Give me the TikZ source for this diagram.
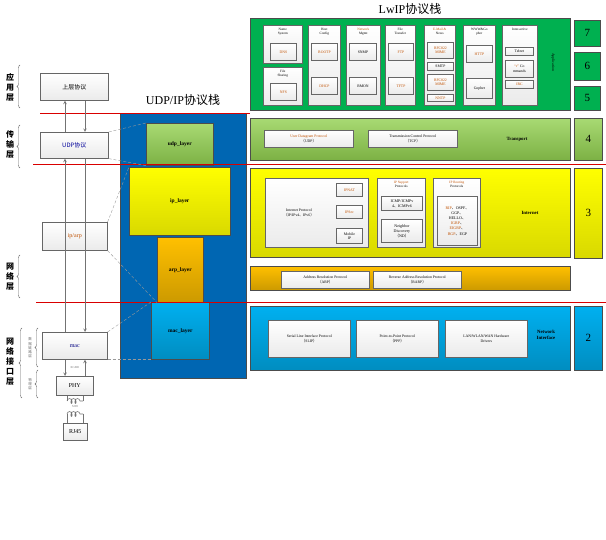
\documentclass[tikz,border=0pt]{standalone}
\usepackage{fontspec}
\setmainfont{Liberation Serif}
\newfontfamily\cjk{Noto Sans CJK SC}
\newcommand\lpn{{\cjk （}}
\newcommand\rpn{{\cjk ）}}
\newcommand\dun{{\cjk 、}}
\usetikzlibrary{decorations.pathreplacing,decorations.pathmorphing}
\definecolor{appg}{RGB}{0,176,80}
\definecolor{trg}{RGB}{146,208,80}
\definecolor{yel}{RGB}{255,255,0}
\definecolor{org}{RGB}{255,192,0}
\definecolor{cya}{RGB}{0,176,240}
\definecolor{dblue}{RGB}{0,102,178}
\definecolor{txo}{RGB}{192,80,0}
\tikzset{
 layer/.style={draw=black!70,line width=0.6pt},
 wbox/.style={draw=black!60,line width=0.6pt,top color=white,bottom color=black!8,font=\fontsize{3.8}{4.4}\selectfont,align=center,inner sep=0.5pt},
 ibox/.style={wbox,line width=0.9pt},
 num/.style={layer,font=\fontsize{11}{12}\selectfont},
 lbox/.style={draw=black!60,line width=0.6pt,top color=white,bottom color=black!8,font=\fontsize{6}{7}\selectfont,align=center},
 conn/.style={draw=black!55,line width=0.6pt},
 dashl/.style={draw=black!40,densely dashed,line width=0.4pt},
 redl/.style={draw=red!85!black,line width=0.7pt},
 brc/.style={draw=black!60,decorate,decoration={brace,amplitude=3pt}},
 side/.style={font=\cjk\bfseries\fontsize{8}{10}\selectfont,align=center},
 grp/.style={wbox,line width=0.6pt},
 coilst/.style={conn,decorate,decoration={coil,aspect=0.6,segment length=4pt,amplitude=2.5pt}},
}
\newcommand\bxx[7]{\node[#1,anchor=north west,minimum width={(#5-#3)*1pt},minimum height={(#6-#4)*1pt}] (#2) at (#3,#4) {#7};}
\begin{document}
\begin{tikzpicture}[x=1pt,y=-1pt]
\useasboundingbox (0,0) rectangle (606,540);
% ---------- titles
\node[font=\fontsize{12}{13}\selectfont] (t1) at (410,9) {LwIP{\cjk 协议栈}};
\node[font=\fontsize{12}{13}\selectfont] (t2) at (183,100) {UDP/IP{\cjk 协议栈}};
% ---------- application
\bxx{layer,fill=appg}{app}{250}{18}{570}{110}{}
\node[rotate=-90,font=\fontsize{3.8}{4}\selectfont] (apptx) at (553,62) {Application};
\bxx{num,fill=appg}{n7}{574}{20}{600}{46}{7}
\bxx{num,fill=appg}{n6}{574}{52}{600}{80}{6}
\bxx{num,fill=appg}{n5}{574}{86}{600}{110}{5}
\bxx{grp}{g1}{263}{25}{302}{63}{}
\node[anchor=north,font=\fontsize{3.4}{3.8}\selectfont,align=center] (g1t) at (g1.north) {Name\\System};
\bxx{ibox,text=txo}{dns}{270}{43}{296}{60}{DNS}
\bxx{grp}{g2}{263}{67}{302}{105}{}
\node[anchor=north,font=\fontsize{3.4}{3.8}\selectfont,align=center] (g2t) at (g2.north) {File\\Sharing};
\bxx{ibox,text=txo}{nfs}{270}{83}{296}{100}{NFS}
\bxx{grp}{g3}{308}{25}{340}{105}{}
\node[anchor=north,font=\fontsize{3.4}{3.8}\selectfont,align=center] (g3t) at (g3.north) {Host\\Config};
\bxx{ibox,text=txo}{bootp}{311}{43}{337}{60}{BOOTP}
\bxx{ibox,text=txo}{dhcp}{311}{77}{337}{94}{DHCP}
\bxx{grp}{g4}{346}{25}{380}{105}{}
\node[anchor=north,font=\fontsize{3.4}{3.8}\selectfont,align=center] (g4t) at (g4.north) {{\color{txo}Network}\\Mgmt};
\bxx{ibox}{snmp}{349}{43}{376}{60}{SNMP}
\bxx{ibox}{rmon}{349}{77}{376}{94}{RMON}
\bxx{grp}{g5}{385}{25}{415}{105}{}
\node[anchor=north,font=\fontsize{3.4}{3.8}\selectfont,align=center] (g5t) at (g5.north) {File\\Transfer};
\bxx{ibox,text=txo}{ftp}{388}{43}{413}{60}{FTP}
\bxx{ibox,text=txo}{tftp}{388}{77}{413}{94}{TFTP}
\bxx{grp}{g6}{424}{25}{455}{105}{}
\node[anchor=north,font=\fontsize{3.4}{3.8}\selectfont,align=center] (g6t) at (g6.north) {{\color{txo}E-Mail \&}\\News};
\bxx{ibox,text=txo}{mime1}{427}{42}{453}{58}{RFC822\\MIME}
\bxx{ibox}{smtp}{427}{62}{453}{70}{SMTP}
\bxx{ibox,text=txo}{mime2}{427}{74}{453}{90}{RFC822\\MIME}
\bxx{ibox,text=txo}{nntp}{427}{94}{453}{101}{NNTP}
\bxx{grp}{g7}{463}{25}{495}{105}{}
\node[anchor=north,font=\fontsize{3.4}{3.8}\selectfont,align=center] (g7t) at (g7.north) {WWW\&Go\\pher};
\bxx{ibox,text=txo}{http}{466}{45}{492}{62}{HTTP}
\bxx{ibox}{gopher}{466}{78}{492}{98}{Gopher}
\bxx{grp}{g8}{502}{25}{537}{105}{}
\node[anchor=north,font=\fontsize{3.4}{3.8}\selectfont,align=center] (g8t) at (g8.north) {Inter-active};
\bxx{ibox}{telnet}{505}{47}{533}{55}{Telnet}
\bxx{ibox}{rcmd}{505}{60}{533}{77}{{\color{txo}``r''} Co\\mmands}
\bxx{ibox,text=txo}{irc}{505}{80}{533}{88}{IRC}
% ---------- transport
\bxx{layer,top color=trg!80!white,bottom color=trg!85!black}{trans}{250}{118}{570}{160}{}
\bxx{num,top color=trg!80!white,bottom color=trg!85!black}{n4}{574}{118}{602}{160}{4}
\bxx{wbox}{udp}{264}{130}{353}{147}{{\color{txo}User Datagram Protocol}\\\lpn UDP\rpn}
\bxx{wbox}{tcp}{368}{130}{457}{147}{Transmission Control Protocol\\\lpn TCP\rpn}
\node[font=\bfseries\fontsize{4.8}{5}\selectfont] (trt) at (517,139) {Transport};
% ---------- internet
\bxx{layer,top color=yel,bottom color=yel!85!black}{inet}{250}{168}{570}{257}{}
\bxx{num,top color=yel,bottom color=yel!85!black}{n3}{574}{168}{602}{258}{3}
\bxx{wbox}{ipg}{265}{178}{368}{247}{}
\node[font=\fontsize{3.8}{4.4}\selectfont,align=center] (ipt) at (299,213) {Internet Protocol\\\lpn IP/IPv4\dun IPv6\rpn};
\bxx{ibox,text=txo}{ipnat}{336}{183}{362}{196}{IPNAT}
\bxx{ibox,text=txo}{ipsec}{336}{205}{362}{218}{IPSec}
\bxx{ibox}{mobip}{336}{228}{362}{243}{Mobile\\IP}
\bxx{grp}{ips}{377}{178}{425}{247}{}
\node[anchor=north,font=\fontsize{3.4}{3.8}\selectfont,align=center] (ipst) at (ips.north) {{\color{txo}IP Support}\\Protocols};
\bxx{ibox,font=\fontsize{4}{5}\selectfont}{icmp}{381}{196}{422}{210}{ICMP/ICMPv\\4\dun ICMPv6}
\bxx{ibox,font=\fontsize{4}{5}\selectfont}{nd}{381}{219}{422}{242}{Neighbor\\Discovery\\\lpn ND\rpn}
\bxx{grp}{ipr}{433}{178}{480}{247}{}
\node[anchor=north,font=\fontsize{3.4}{3.8}\selectfont,align=center] (iprt) at (ipr.north) {{\color{txo}IP Routing}\\Protocols};
\bxx{ibox,font=\fontsize{4}{5.2}\selectfont}{rip}{437}{196}{477}{245}{{\color{txo}RIP}\dun OSPF\dun\\GGP\dun\\HELLO\dun\\{\color{txo}IGRP}\dun\\{\color{txo}EIGRP}\dun\\{\color{txo}BGP}\dun EGP}
\node[font=\bfseries\fontsize{4.8}{5}\selectfont] (intt) at (530,213) {Internet};
% ---------- arp
\bxx{layer,top color=org,bottom color=org!80!black}{arpb}{250}{266}{570}{290}{}
\bxx{wbox}{arp}{281}{271}{369}{288}{Address Resolution Protocol\\\lpn ARP\rpn}
\bxx{wbox}{rarp}{373}{271}{461}{288}{Reverse Address Resolution Protocol\\\lpn RARP\rpn}
% ---------- network interface
\bxx{layer,top color=cya,bottom color=cya!80!black}{neti}{250}{306}{570}{370}{}
\bxx{num,top color=cya,bottom color=cya!80!black}{n2}{574}{306}{602}{370}{2}
\bxx{wbox}{slip}{268}{320}{350}{357}{Serial Line Interface Protocol\\\lpn SLIP\rpn}
\bxx{wbox}{ppp}{356}{320}{438}{357}{Point-to-Point Protocol\\\lpn PPP\rpn}
\bxx{wbox}{lan}{445}{320}{527}{357}{LAN/WLAN/WAN Hardware\\Drivers}
\node[font=\bfseries\fontsize{4.8}{5.8}\selectfont,align=center] (nit) at (546,335) {Network\\Interface};
% ---------- UDP/IP stack
\bxx{layer,fill=dblue}{stack}{120}{113}{246}{378}{}
\bxx{layer,top color=trg!80!white,bottom color=trg!85!black,font=\bfseries\fontsize{5.5}{6}\selectfont}{udpl}{146}{123}{213}{165}{udp\_layer}
\bxx{layer,top color=yel,bottom color=yel!85!black,font=\bfseries\fontsize{5.5}{6}\selectfont}{ipl}{129}{167}{230}{235}{ip\_layer}
\bxx{layer,top color=org,bottom color=org!80!black,font=\bfseries\fontsize{5.5}{6}\selectfont}{arpl}{157}{237}{203}{302}{arp\_layer}
\bxx{layer,top color=cya,bottom color=cya!80!black,font=\bfseries\fontsize{5.5}{6}\selectfont}{macl}{151}{302}{209}{359}{mac\_layer}
% ---------- red separators
\draw[redl] (40,113) -- (250,113);
\draw[redl] (33,164) -- (606,164);
\draw[redl] (36,302) -- (606,302);
% ---------- left column
\bxx{lbox,font=\cjk\fontsize{6}{7}\selectfont}{upper}{40}{73}{108}{100}{上层协议}
\bxx{lbox,font=\cjk\fontsize{6}{7}\selectfont,text=blue!60!black}{udpp}{40}{132}{108}{158}{UDP协议}
\bxx{lbox,text=txo}{iparp}{42}{222}{107}{250}{ip/arp}
\bxx{lbox,text=blue!50!black}{mac}{42}{332}{107}{359}{mac}
\bxx{lbox}{phy}{56}{376}{93}{395}{PHY}
\bxx{lbox}{rj}{63}{423}{87}{440}{RJ45}
\draw[conn,-stealth] (udpp.north -| 65,0) -- (upper.south -| 65,0);
\draw[conn,-stealth] (upper.south -| 85,0) -- (udpp.north -| 85,0);
\draw[conn,-stealth] (mac.north -| 65,0) -- (udpp.south -| 65,0);
\draw[conn,-stealth] (udpp.south -| 85,0) -- (mac.north -| 85,0);
\draw[conn,-stealth] (mac.south -| 65,0) -- (phy.north -| 65,0);
\draw[conn,-stealth] (phy.north -| 85,0) -- (mac.south -| 85,0);
\node[font=\fontsize{3}{3.5}\selectfont,text=black!50] (rgmii) at (75,368) {RGMII};
\node[font=\fontsize{3}{3.5}\selectfont,text=black!50] (mdi) at (75,407) {MDI};
\draw[coilst] (67,401) -- (83,401);
\draw[coilst] (67,414) -- (83,414);
\draw[conn] (phy.south -| 67,0) -- (67,401);
\draw[conn] (phy.south -| 83,0) -- (83,401);
\draw[conn] (67,414) -- (rj.north -| 67,0);
\draw[conn] (83,414) -- (rj.north -| 83,0);
% dashed links
\draw[dashl] (udpp.north east) -- (udpl.north west);
\draw[dashl] (udpp.south east) -- (udpl.south west);
\draw[dashl] (iparp.north east) -- (ipl.north west);
\draw[dashl] (iparp.south east) -- (arpl.south west);
\draw[dashl] (mac.north east) -- (macl.north west);
\draw[dashl] (mac.south east) -- (macl.south west);
% left labels and braces
\node[side] (s1) at (10,87) {应\\用\\层};
\draw[brc] (20,108) -- (20,65);
\node[side] (s2) at (10,145) {传\\输\\层};
\draw[brc] (20,168) -- (20,125);
\node[side] (s3) at (10,277) {网\\络\\层};
\draw[brc] (20,298) -- (20,255);
\node[side] (s4) at (10,362) {网\\络\\接\\口\\层};
\draw[brc] (22,398) -- (22,328);
\node[font=\cjk\fontsize{3.5}{4.2}\selectfont,align=center,text=black!60] (s5) at (30,348) {数\\据\\链\\路\\层};
\draw[brc] (38,367) -- (38,328);
\node[font=\cjk\fontsize{3.5}{4.2}\selectfont,align=center,text=black!60] (s6) at (30,384) {物\\理\\层};
\draw[brc] (38,398) -- (38,370);
\end{tikzpicture}
\end{document}
